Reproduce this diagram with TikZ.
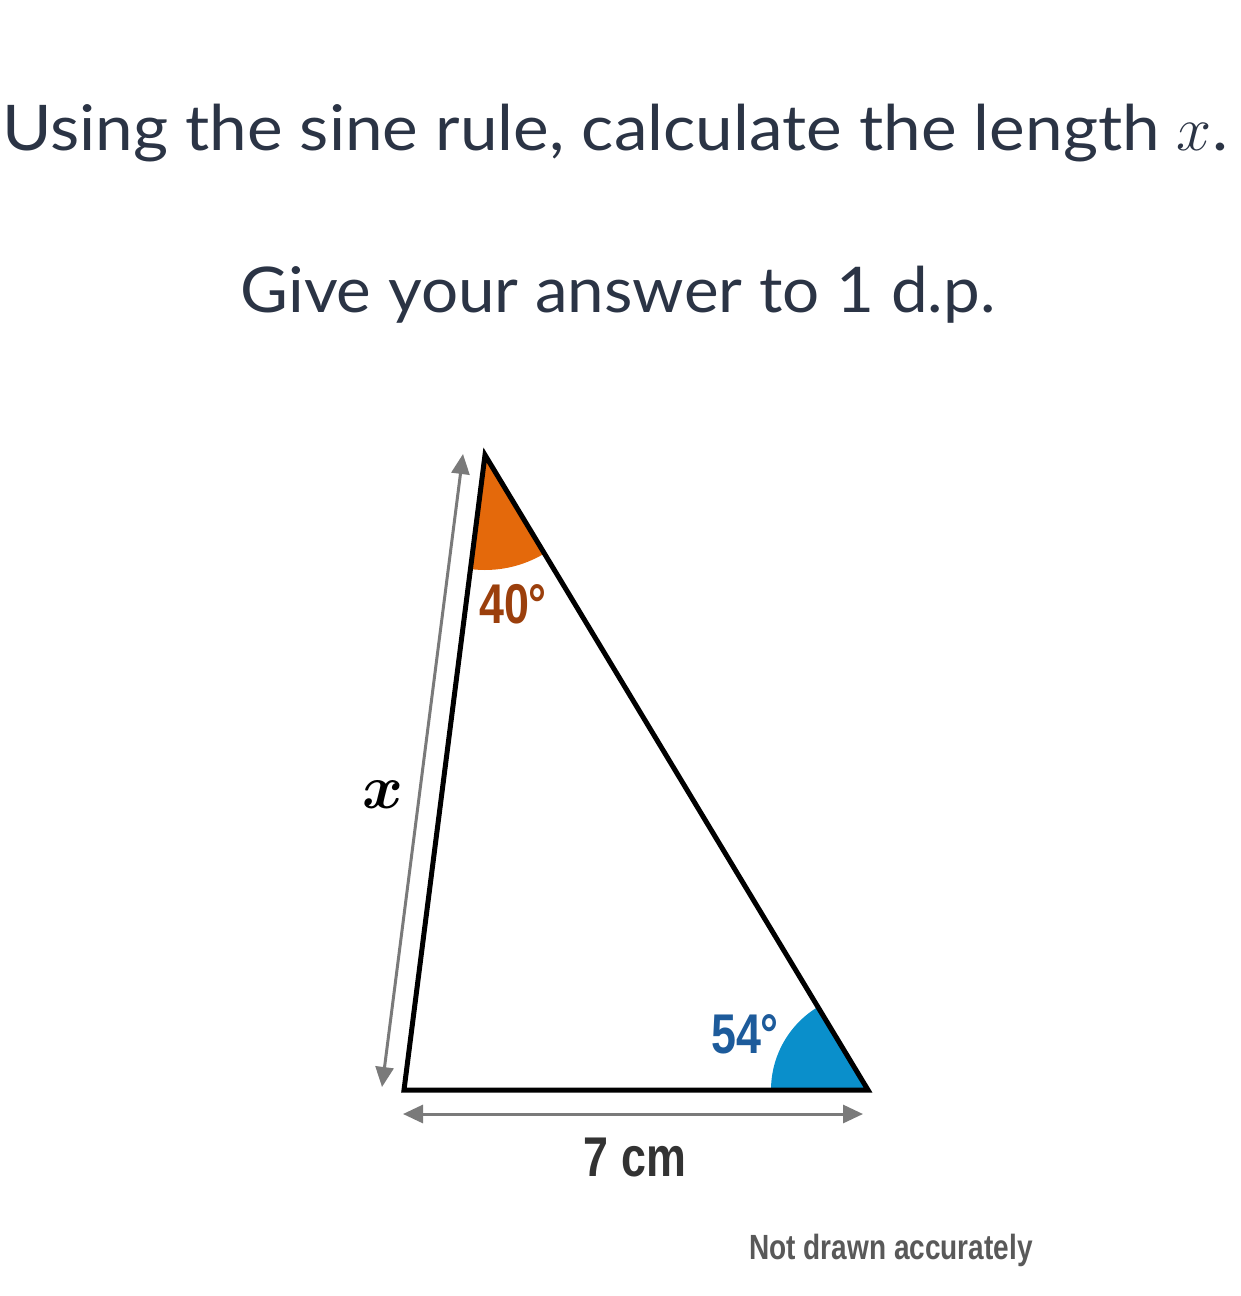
\RequirePackage{fix-cm}
\documentclass[tikz,border=0pt]{standalone}
\usepackage{amsmath, bm}
\usepackage{fontspec}
\setmainfont{Lato}
\newfontfamily\questionfont[FakeStretch=1.07]{Lato}
\newfontfamily\hintfont[FakeStretch=1.04]{Lato}
\newfontfamily\labelfont[FakeStretch=0.8]{Liberation Sans}
\usetikzlibrary{arrows.meta}
\definecolor{titlegrey}{HTML}{2B3445}
\definecolor{arrowgrey}{HTML}{7A7A7A}
\definecolor{angleorange}{HTML}{E4690B}
\definecolor{angleblue}{HTML}{0A8FCB}
\definecolor{labelbrown}{HTML}{9B3F0C}
\definecolor{labelblue}{HTML}{1D5B9B}
\tikzset{
  dimarrow/.style={draw=arrowgrey, line width=3pt,
    {Triangle[length=20pt,width=18pt]}-{Triangle[length=20pt,width=18pt]}},
  titletext/.style={text=titlegrey, font=\fontsize{63}{76}\selectfont, inner sep=0pt},
  figlabel/.style={font=\labelfont\bfseries\fontsize{56}{60}\selectfont, inner sep=0pt}
}
\begin{document}
\begin{tikzpicture}[x=1pt, y=-1pt]
	\useasboundingbox[fill=white] (0,0) rectangle (1240,1296);
	% question
	\node[titletext, anchor=base] (question) at (615,150) {\questionfont Using the sine rule, calculate the length $x$.};
	\node[titletext, anchor=base] (accuracy) at (618,312) {\hintfont Give your answer to 1 d.p.};
	% triangle vertices
	\coordinate (A) at (485,455);
	\coordinate (B) at (404,1090);
	\coordinate (C) at (868,1090);
	% angle sectors
	\fill[angleorange] (A) -- +(58.9:115) arc[start angle=58.9, end angle=97.3, radius=115] -- cycle;
	\fill[angleblue] (C) -- +(180:97) arc[start angle=180, end angle=238.9, radius=97] -- cycle;
	\draw[line width=5pt, line join=miter] (A) -- (B) -- (C) -- cycle;
	% dimension arrows
	\coordinate (xtop) at (463,454);
	\coordinate (xbot) at (382,1087);
	\coordinate (baseleft) at (403,1114);
	\coordinate (baseright) at (863,1114);
	\draw[dimarrow] (xbot) -- (xtop);
	\draw[dimarrow] (baseleft) -- (baseright);
	% labels
	\node[figlabel, text=labelbrown] (angleA) at (513,604) {40°};
	\node[figlabel, text=labelblue] (angleC) at (745,1034) {54°};
	\node[figlabel, text=black!80] (baselen) at (635,1157) {7 cm};
	\node[inner sep=0pt, font=\fontsize{62}{62}\selectfont] (xlen) at (383,795) {$\bm{x}$};
	\node[inner sep=0pt, text=black!65, font=\labelfont\bfseries\fontsize{35}{40}\selectfont] (note) at (891,1250) {Not drawn accurately};
\end{tikzpicture}
\end{document}
